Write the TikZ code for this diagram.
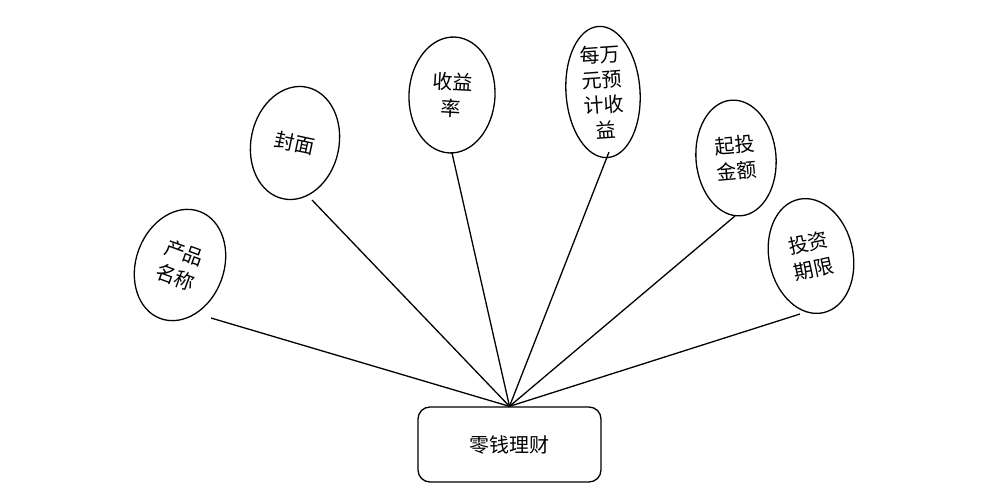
\documentclass[tikz,border=0pt]{standalone}
\usepackage{fontspec}
\newfontfamily\cjk{Noto Sans CJK SC}
\usetikzlibrary{shapes.geometric}
\begin{document}
\begin{tikzpicture}[x=1pt,y=-1pt,
  attr/.style={draw,line width=1.3pt,ellipse,inner sep=0pt,font=\cjk\fontsize{20}{26}\selectfont,align=center},
  ent/.style={draw,line width=1.3pt,rounded corners=12pt,minimum width=183pt,minimum height=75pt,font=\cjk\fontsize{20}{24}\selectfont},
  link/.style={line width=1.3pt}]
\useasboundingbox (0,0) rectangle (998,497);
\node[ent] (b) at (509.5,444.5) {零钱理财};
\node[attr,minimum width=88pt,minimum height=114pt,rotate=-20] (e1) at (180,265) {产品\\名称};
\node[attr,minimum width=88pt,minimum height=114pt,rotate=-12] (e2) at (295,143) {封面};
\node[attr,minimum width=86pt,minimum height=116pt,rotate=-3] (e3) at (452,95) {收益\\率};
\node[attr,minimum width=74pt,minimum height=120pt,rotate=4,font=\cjk\fontsize{20}{25}\selectfont] (e4) at (603,92) {每万\\元预\\计收\\益};
\node[attr,minimum width=80pt,minimum height=116pt,rotate=5] (e5) at (736,158) {起投\\金额};
\node[attr,minimum width=84pt,minimum height=116pt,rotate=12] (e6) at (811,256) {投资\\期限};
\coordinate (p1) at (211,318);
\coordinate (p2) at (312,200);
\coordinate (p3) at (452,153);
\coordinate (p4) at (609,152);
\coordinate (p5) at (735,216);
\coordinate (p6) at (800,314);
\foreach \p in {p1,p2,p3,p4,p5,p6} \draw[link] (b.north) -- (\p);
\end{tikzpicture}
\end{document}
